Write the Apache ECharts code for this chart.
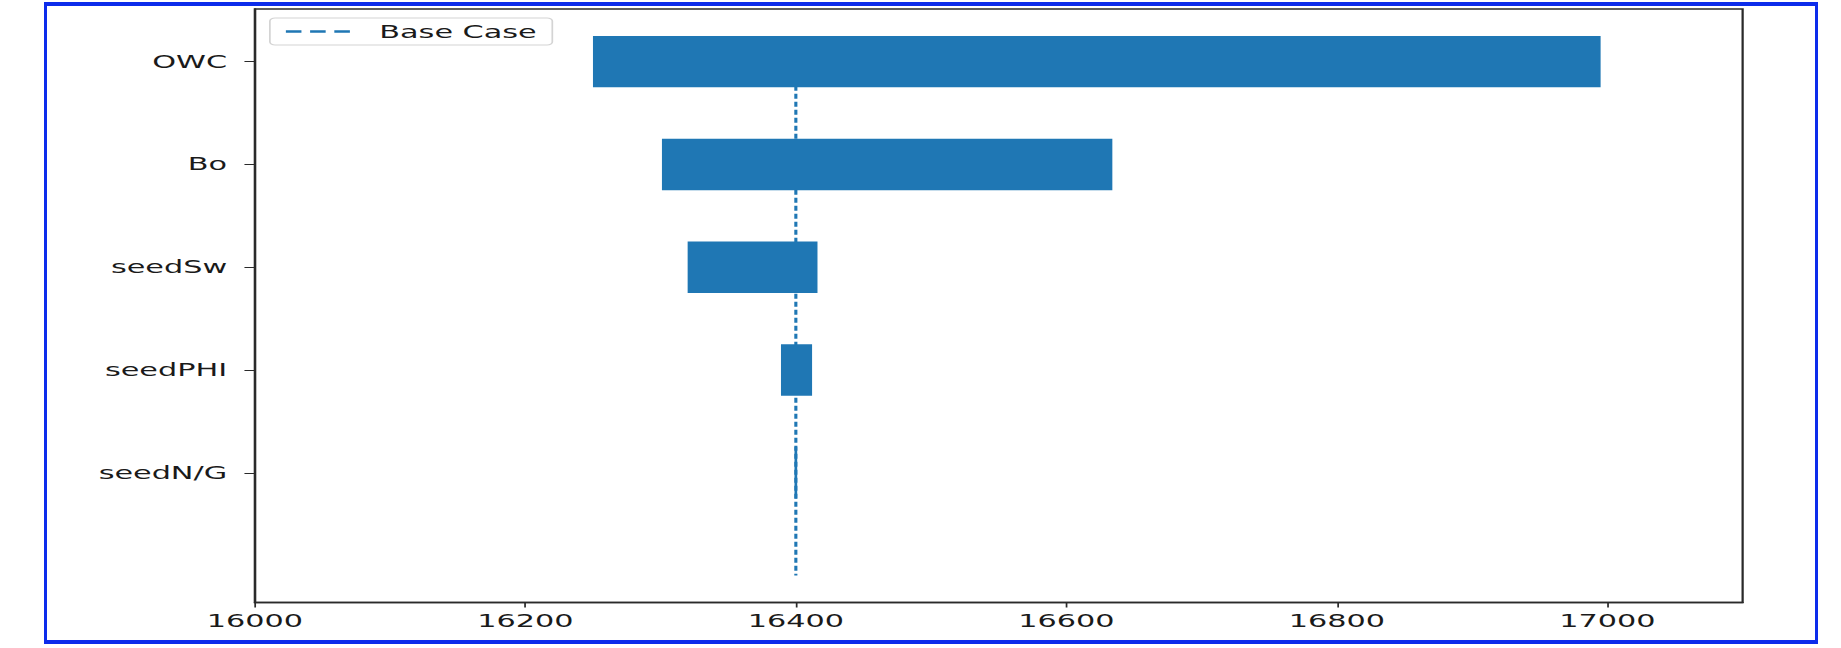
<!DOCTYPE html>
<html>
<head>
<meta charset="utf-8">
<script src="https://cdn.jsdelivr.net/npm/echarts@6/dist/echarts.min.js"></script>
<style>
  html, body { margin: 0; padding: 0; background: #ffffff; }
  #page { position: relative; width: 1841px; height: 648px; overflow: hidden; background: #fff; }
  #frame { position: absolute; left: 44px; top: 2px; width: 1774px; height: 642px; box-sizing: border-box;
           border-style: solid; border-color: rgb(12,44,235); border-width: 4px 3px 4px 3px; pointer-events: none; z-index: 2; }
  #chart { position: absolute; left: 0; top: 0; width: 1064px; height: 648px;
           transform: scaleX(1.73); transform-origin: 0 0; }
</style>
</head>
<body>
<div id="page">
  <div id="chart"></div>
  <div id="frame"></div>
</div>
<script>
// ---- data ----
const categories = ['OWC', 'Bo', 'seedSw', 'seedPHI', 'seedN/G'];
const lowValues  = [16250, 16301, 16320, 16389, 16399];
const highValues = [16995, 16634, 16416, 16412, 16401];
const baseCase = 16400;
const baseLineSpan = [0, 5];           // vertical extent of the base-case line (in category index units)
const xTickValues = [16000, 16200, 16400, 16600, 16800, 17000];
const yTickValues = [0, 1, 2, 3, 4];

// ---- styling ----
const BLUE = '#1f77b4';
const FONT = 'DejaVu Sans';
const BAR_HEIGHT = 0.5;

const barData = categories.map((c, i) => [lowValues[i], highValues[i], i]);
const lineData = baseLineSpan.map(y => [baseCase, y]);

const chart = echarts.init(document.getElementById('chart'), null, { renderer: 'svg' });
chart.setOption({
  animation: false,
  backgroundColor: '#ffffff',
  grid: {
    left: 147.3, top: 9, width: 860, height: 593.5,
    show: true, borderColor: '#2a2a2a', borderWidth: 1.3, backgroundColor: 'transparent'
  },
  legend: {
    data: ['Base Case'],
    left: 156, top: 18,
    orient: 'horizontal',
    padding: [4, 9, 4, 8],
    itemWidth: 37, itemHeight: 18,
    borderColor: '#d4d4d4', borderWidth: 1, borderRadius: 3,
    backgroundColor: 'rgba(255,255,255,0.85)',
    itemStyle: { opacity: 0 },
    lineStyle: { type: [9, 5], width: 2.5, color: BLUE, opacity: 1 },
    textStyle: { fontFamily: FONT, fontSize: 17.5, color: '#1a1a1a', padding: [0, 0, 0, 12], lineHeight: 19 }
  },
  xAxis: {
    type: 'value', min: 16000, max: 17100,
    axisLine: { show: true, onZero: false, lineStyle: { color: '#2a2a2a', width: 1.3 } },
    axisTick: { show: true, customValues: xTickValues, length: 5, lineStyle: { color: '#2a2a2a', width: 1 } },
    axisLabel: { customValues: xTickValues, margin: 9, fontFamily: FONT, fontSize: 17.5, color: '#1a1a1a',
                 formatter: v => String(Math.round(v)) },
    splitLine: { show: false }
  },
  yAxis: {
    type: 'value', inverse: true, min: -0.5125, max: 5.2625,
    axisLine: { show: true, onZero: false, lineStyle: { color: '#2a2a2a', width: 1.3 } },
    axisTick: { show: true, customValues: yTickValues, length: 6, lineStyle: { color: '#2a2a2a', width: 1 } },
    axisLabel: {
      customValues: yTickValues, margin: 16, fontFamily: FONT, fontSize: 17.5, color: '#1a1a1a',
      formatter: v => categories[Math.round(v)] || ''
    },
    splitLine: { show: false }
  },
  series: [
    {
      name: 'Base Case', type: 'line', data: lineData, symbol: 'none', showSymbol: false, z: 1,
      lineStyle: { type: [5, 3], width: 1.8, color: BLUE }, itemStyle: { color: BLUE }
    },
    {
      name: 'bars', type: 'custom', z: 3, data: barData,
      encode: { x: [0, 1], y: 2 },
      renderItem: function (params, api) {
        const lo = api.value(0), hi = api.value(1), idx = api.value(2);
        const p1 = api.coord([lo, idx]);
        const p2 = api.coord([hi, idx]);
        const h = api.size([0, BAR_HEIGHT])[1];
        return {
          type: 'rect',
          shape: { x: p1[0], y: p1[1] - h / 2, width: Math.max(p2[0] - p1[0], 1), height: h },
          style: { fill: BLUE }
        };
      }
    }
  ]
});
</script>
</body>
</html>
